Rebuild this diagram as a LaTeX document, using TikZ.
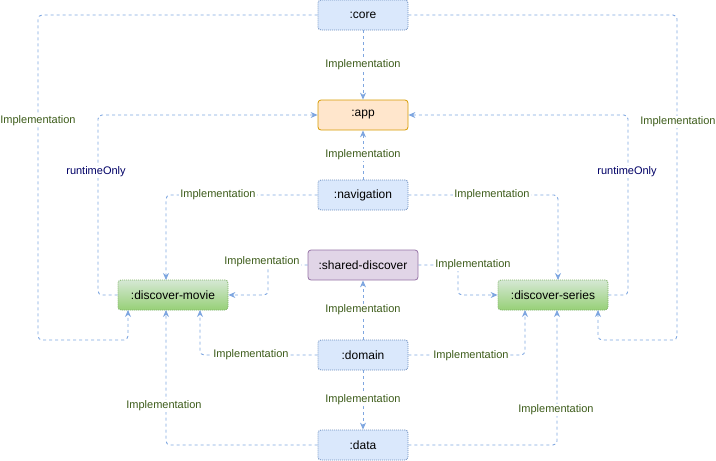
\documentclass[tikz,border=0pt]{standalone}
\usepackage{fontspec}
\setmainfont{Liberation Sans}
\usetikzlibrary{arrows.meta}
\definecolor{bf}{HTML}{DAE8FC}\definecolor{bs}{HTML}{6C8EBF}
\definecolor{of}{HTML}{FFE6CC}\definecolor{os}{HTML}{D79B00}
\definecolor{pf}{HTML}{E1D5E7}\definecolor{ps}{HTML}{9673A6}
\definecolor{gf}{HTML}{D5E8D4}\definecolor{gf2}{HTML}{97D077}\definecolor{gs}{HTML}{82B366}
\definecolor{ec}{HTML}{7EA6E0}\definecolor{lc}{HTML}{3D5C1A}\definecolor{rc}{HTML}{000066}
\begin{document}
\begin{tikzpicture}[x=1pt,y=-1pt,
 box/.style={draw=bs,fill=bf,line width=0.8pt,dash pattern=on 1pt off 1pt,rounded corners=3pt,minimum width=90pt,minimum height=30pt,inner sep=0pt,font=\fontsize{12}{14}\selectfont,text=black},
 pbox/.style={box,draw=ps,fill=pf,minimum width=110pt,solid},
 gbox/.style={box,draw=gs,top color=gf,bottom color=gf2,minimum width=110pt},
 obox/.style={box,draw=os,fill=of,solid},
 e/.style={draw=ec,line width=0.9pt,dash pattern=on 3pt off 3pt,-{Stealth[length=7pt,width=6pt,fill=ec]},rounded corners=4pt},
 l/.style={fill=white,text=lc,font=\fontsize{11}{13}\selectfont,inner sep=1pt},
 r/.style={l,text=rc}]
\useasboundingbox (0,0) rectangle (716,461);
\node[box] (core) at (363,15) {:core};
\node[obox] (app) at (363,115) {:app};
\node[box] (nav) at (363,195) {:navigation};
\node[pbox] (sh) at (363,265) {:shared-discover};
\node[gbox] (mov) at (173,295) {:discover-movie};
\node[gbox] (ser) at (553,295) {:discover-series};
\node[box] (dom) at (363,355) {:domain};
\node[box] (dat) at (363,445) {:data};
\coordinate (m128) at (128,310); \coordinate (m166) at (166,310); \coordinate (m200) at (200,310);
\coordinate (s598) at (598,310); \coordinate (s557) at (557,310); \coordinate (s525) at (525,310);
\draw[e] (core) -- node[l]{Implementation} (app);
\draw[e] (core.west) -- (38,15) -- (38,340) -- (128,340) -- (m128);
\node[l] at (38,121) {Implementation};
\draw[e] (core.east) -- (677,15) -- (677,340) -- (598,340) -- (s598);
\node[l] at (678,122) {Implementation};
\draw[e] (nav) -- node[l]{Implementation} (app);
\draw[e] (mov.west) -- (98,295) -- (98,115) -- (app.west);
\node[r] at (96,172) {runtimeOnly};
\draw[e] (ser.east) -- (628,295) -- (628,115) -- (app.east);
\node[r] at (627,172) {runtimeOnly};
\draw[e] (nav.west) -- (166,195) -- (166,280);
\node[l] at (218,195) {Implementation};
\draw[e] (nav.east) -- (558,195) -- (558,280);
\node[l] at (492,195) {Implementation};
\draw[e] (sh.west) -- (268,265) -- (268,295) -- (mov.east);
\node[l] at (262,262) {Implementation};
\draw[e] (sh.east) -- (458,265) -- (458,295) -- (ser.west);
\node[l] at (473,265) {Implementation};
\draw[e] (dom) -- node[l]{Implementation} (sh);
\draw[e] (dom.west) -- (200,355) -- (m200);
\node[l] at (251,355) {Implementation};
\draw[e] (dom.east) -- (525,355) -- (s525);
\node[l] at (471,356) {Implementation};
\draw[e] (dom) -- node[l]{Implementation} (dat);
\draw[e] (dat.west) -- (166,445) -- (m166);
\node[l] at (164,406) {Implementation};
\draw[e] (dat.east) -- (557,445) -- (s557);
\node[l] at (556,410) {Implementation};
\end{tikzpicture}
\end{document}
